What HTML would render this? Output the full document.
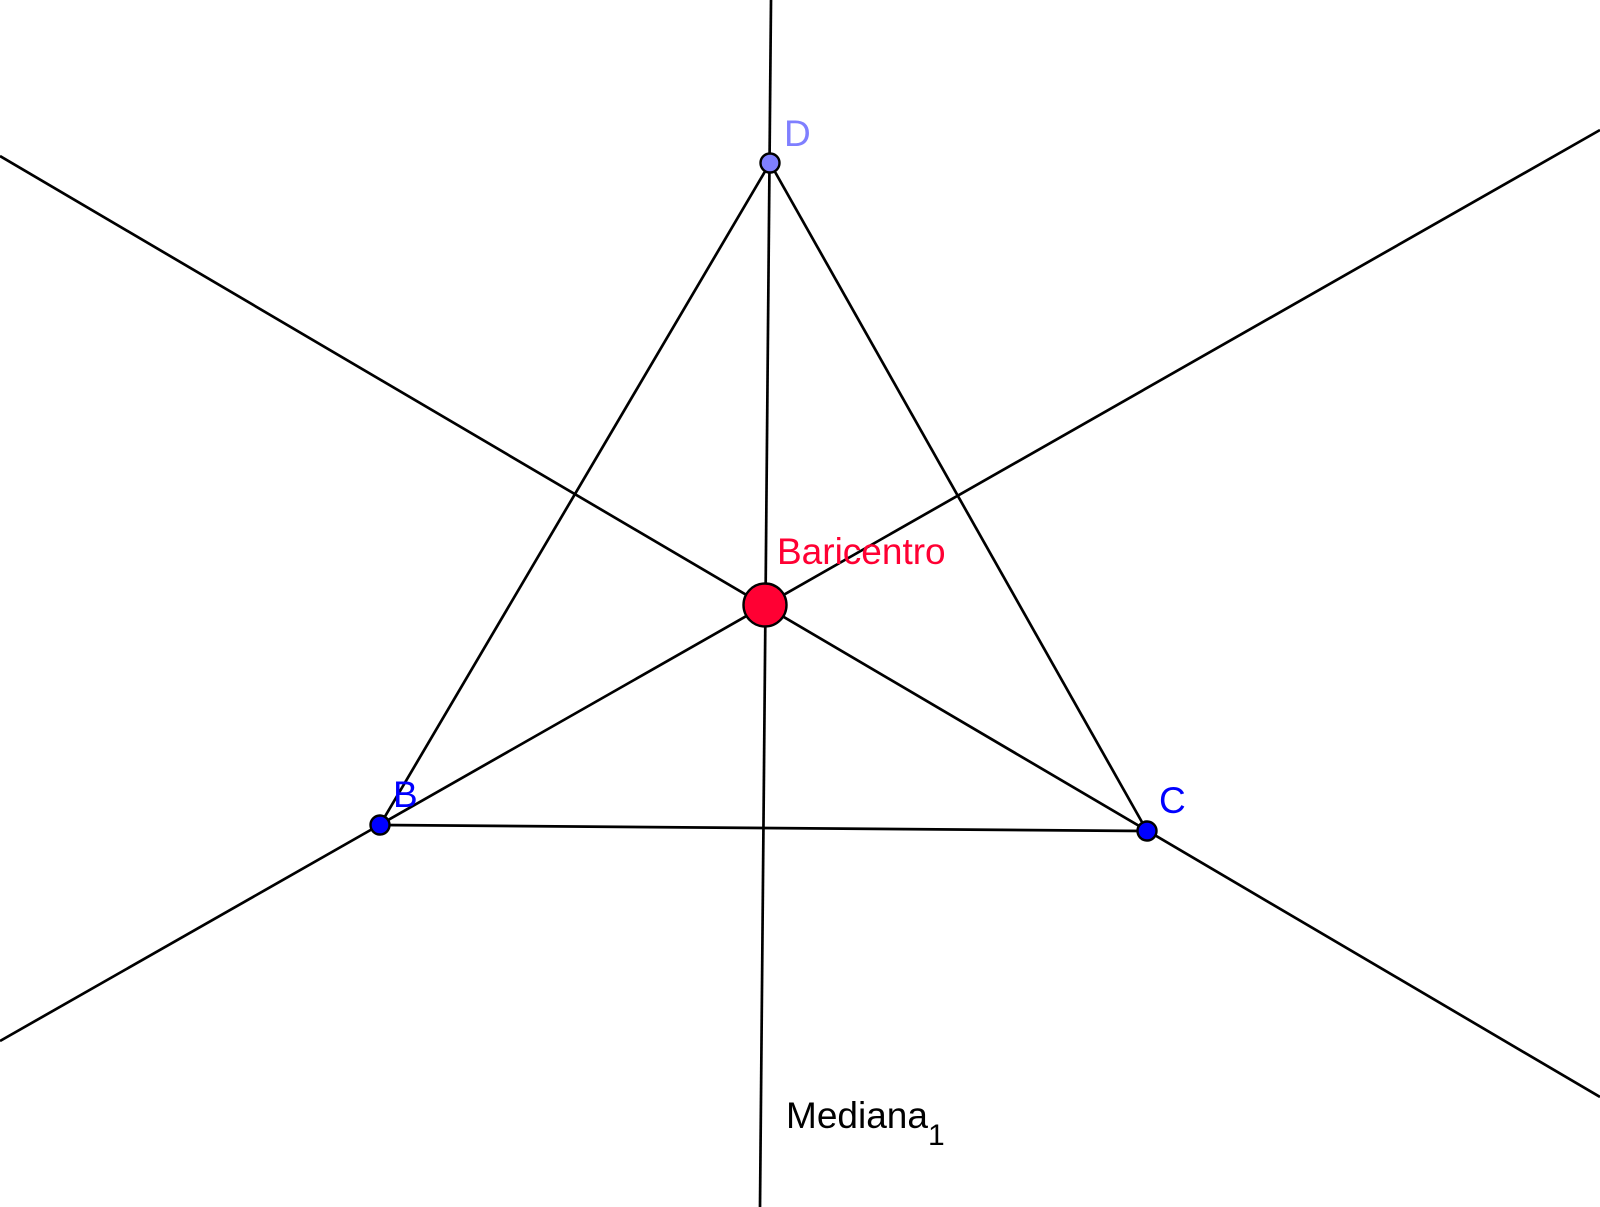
<!DOCTYPE html>
<html><head><meta charset="utf-8"><style>html,body{margin:0;padding:0;background:#fff}svg{display:block}</style></head>
<body>
<svg width="1600" height="1207" viewBox="0 0 1600 1207" xmlns="http://www.w3.org/2000/svg" font-family="Liberation Sans, sans-serif">
<g stroke="#000" stroke-width="2.7" fill="none">
<line x1="771" y1="0" x2="760" y2="1207"/>
<line x1="0" y1="156" x2="1600" y2="1097"/>
<line x1="0" y1="1041" x2="1600" y2="130"/>
<line x1="770" y1="163" x2="380" y2="825"/>
<line x1="770" y1="163" x2="1147" y2="831"/>
<line x1="380" y1="825" x2="1147" y2="831"/>
</g>
<g stroke="#000" stroke-width="2.4">
<circle cx="770" cy="163" r="9.5" fill="#7f7fff"/>
<circle cx="380" cy="825" r="9.5" fill="#0000ff"/>
<circle cx="1147" cy="831" r="9.5" fill="#0000ff"/>
<circle cx="765" cy="605" r="21.5" fill="#ff0033"/>
</g>
<text x="784" y="146" font-size="37" fill="#7f7fff">D</text>
<text x="777" y="564" font-size="37" fill="#ff0033">Baricentro</text>
<text x="393" y="807" font-size="37" fill="#0000ff">B</text>
<text x="1159" y="813" font-size="37" fill="#0000ff">C</text>
<text x="786" y="1128" font-size="37" fill="#000">Mediana<tspan font-size="30" dy="17">1</tspan></text>
</svg>
</body></html>
